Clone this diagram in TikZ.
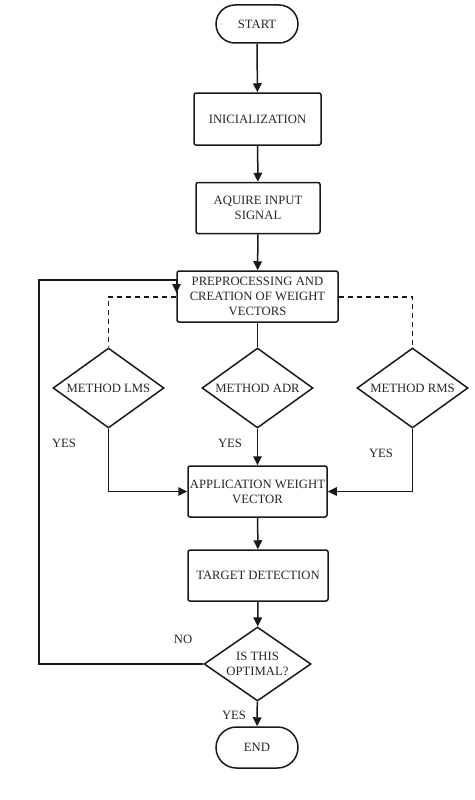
\documentclass[tikz,border=0pt]{standalone}
\usepackage{fontspec}
\setmainfont{Liberation Serif}
\usetikzlibrary{shapes.geometric,shapes.misc,arrows.meta}
\begin{document}
\begin{tikzpicture}[x=1pt,y=-1pt,
  every node/.style={font=\fontsize{12.7}{14.8}\selectfont, text=black!85},
  ln/.style={line width=1.5pt, draw=black!90},
  arr/.style={ln, -{Triangle[length=9pt,width=8.5pt]}},
  dsh/.style={ln, dash pattern=on 5pt off 4pt},
  procbox/.style={ln, rectangle, rounded corners=2pt, inner sep=0pt, align=center},
  termbox/.style={ln, rounded rectangle, inner sep=0pt},
  dia/.style={ln, diamond, inner sep=0pt, minimum width=111pt, minimum height=80pt},
  lbl/.style={inner sep=0pt}]
\useasboundingbox (0,0) rectangle (474,800);
\node[termbox, minimum width=82pt, minimum height=38pt] (start) at (257,24) {START};
\node[procbox, minimum width=127pt, minimum height=52pt] (init) at (257.5,119) {INICIALIZATION};
\node[procbox, minimum width=124pt, minimum height=51pt] (acq) at (258,208) {AQUIRE INPUT\\SIGNAL};
\node[procbox, minimum width=161pt, minimum height=51pt] (pre) at (257.5,296.5) {PREPROCESSING AND\\CREATION OF WEIGHT\\VECTORS};
\node[dia] (lms) at (108.5,388) {};
\node[lbl] at (lms) {METHOD LMS};
\node[dia] (adr) at (257.5,388) {};
\node[lbl] at (adr) {METHOD ADR};
\node[dia] (rms) at (412.5,388) {};
\node[lbl] at (rms) {METHOD RMS};
\node[procbox, minimum width=139pt, minimum height=51pt] (app) at (257.5,491.5) {APPLICATION WEIGHT\\VECTOR};
\node[procbox, minimum width=140pt, minimum height=51pt] (tgt) at (258,575.5) {TARGET DETECTION};
\node[dia, minimum width=107pt, minimum height=74pt] (opt) at (257.5,664) {};
\node[lbl, align=center] at (opt) {IS THIS\\OPTIMAL?};
\node[termbox, minimum width=82pt, minimum height=41pt] (end) at (257,747.5) {END};

\node[lbl] (y1) at (64,443) {YES};
\node[lbl] (y2) at (230,443) {YES};
\node[lbl] (y3) at (381,453) {YES};
\node[lbl] (no) at (183,639) {NO};
\node[lbl] (y4) at (234,715) {YES};

\draw[arr] (start) -- (init);
\draw[arr] (init) -- (acq);
\draw[arr] (acq) -- (pre);
\draw[ln] (pre) -- (adr);
\draw[dsh] (pre.west |- 0,297) -| (lms.north);
\draw[dsh] (pre.east |- 0,297) -| (rms.north);
\draw[arr] (adr) -- (app);
\draw[arr] (lms.south) |- (app.west);
\draw[arr] (rms.south) |- (app.east);
\draw[arr] (app) -- (tgt);
\draw[arr] (tgt) -- (opt);
\draw[arr] (opt) -- (end);
\coordinate (lc) at (39,280);
\draw[arr] (opt.west) -| (lc) -- (176.5,280) -- (176.5,293);
\end{tikzpicture}
\end{document}
